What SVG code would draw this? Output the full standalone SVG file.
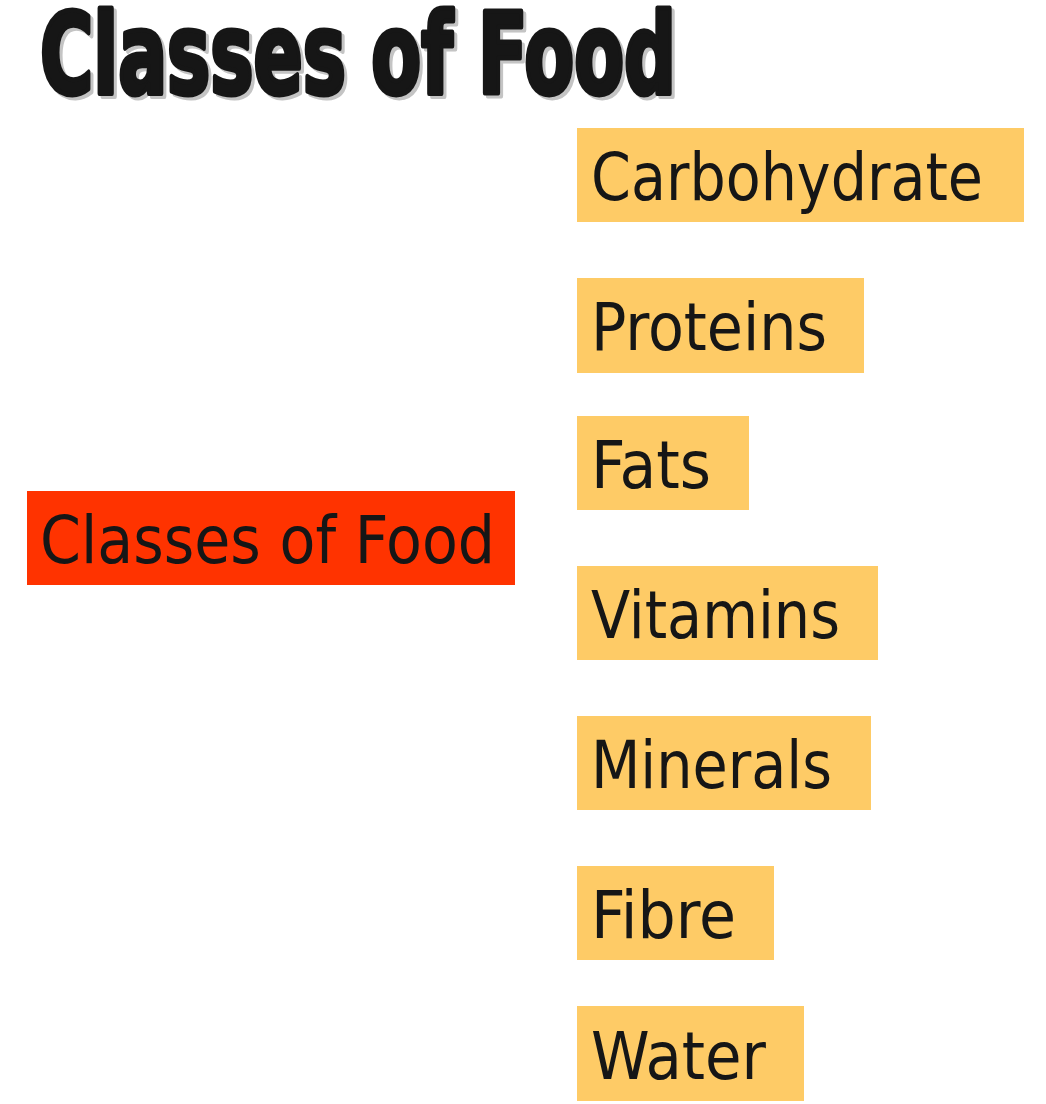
<svg xmlns="http://www.w3.org/2000/svg" width="1046" height="1104" viewBox="0 0 1046 1104">
<style>
.title{font-family:"DejaVu Sans Condensed","DejaVu Sans",sans-serif;font-weight:bold;font-size:113px;stroke-width:5;stroke-linejoin:round}
.lbl{font-family:"DejaVu Sans Condensed","DejaVu Sans",sans-serif;font-size:66px;fill:#161616}
.leaf{fill:#FECB66}
.root{fill:#FF3300}
</style>
<rect width="1046" height="1104" fill="#ffffff"/>
<g id="title">
<text class="title" x="43" y="96" textLength="636" lengthAdjust="spacingAndGlyphs" fill="#c4c4c4" stroke="#c4c4c4">Classes of Food</text>
<text class="title" x="40" y="93" textLength="636" lengthAdjust="spacingAndGlyphs" fill="#161616" stroke="#161616">Classes of Food</text>
</g>
<g id="connectors"></g>
<g id="root">
<rect class="root" x="27" y="491" width="488" height="94"/>
<text class="lbl" x="40" y="563" textLength="455" lengthAdjust="spacingAndGlyphs">Classes of Food</text>
</g>
<g id="carbohydrate">
<rect class="leaf" x="577" y="128" width="447" height="94"/>
<text class="lbl" x="591" y="200" textLength="392" lengthAdjust="spacingAndGlyphs">Carbohydrate</text>
</g>
<g id="proteins">
<rect class="leaf" x="577" y="278" width="287" height="95"/>
<text class="lbl" x="591" y="350" textLength="236" lengthAdjust="spacingAndGlyphs">Proteins</text>
</g>
<g id="fats">
<rect class="leaf" x="577" y="416" width="172" height="94"/>
<text class="lbl" x="591" y="488" textLength="120" lengthAdjust="spacingAndGlyphs">Fats</text>
</g>
<g id="vitamins">
<rect class="leaf" x="577" y="566" width="301" height="94"/>
<text class="lbl" x="591" y="638" textLength="249" lengthAdjust="spacingAndGlyphs">Vitamins</text>
</g>
<g id="minerals">
<rect class="leaf" x="577" y="716" width="294" height="94"/>
<text class="lbl" x="591" y="788" textLength="241" lengthAdjust="spacingAndGlyphs">Minerals</text>
</g>
<g id="fibre">
<rect class="leaf" x="577" y="866" width="197" height="94"/>
<text class="lbl" x="591" y="938" textLength="145" lengthAdjust="spacingAndGlyphs">Fibre</text>
</g>
<g id="water">
<rect class="leaf" x="577" y="1006" width="227" height="95"/>
<text class="lbl" x="591" y="1079" textLength="175" lengthAdjust="spacingAndGlyphs">Water</text>
</g>
</svg>
